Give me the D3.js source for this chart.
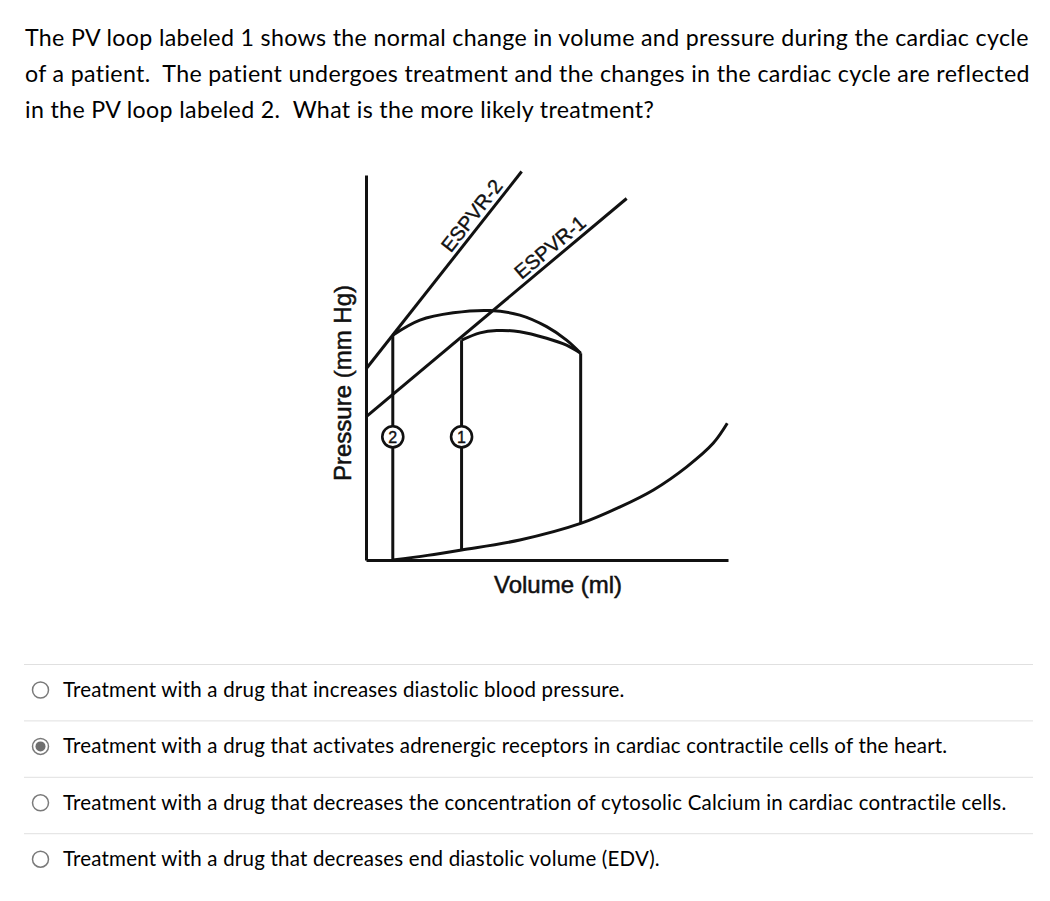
<!DOCTYPE html>
<html>
<head>
<meta charset="utf-8">
<script src="https://cdn.jsdelivr.net/npm/d3@7"></script>
<style>
  body { margin: 0; background: #fff; }
  svg { display: block; }
  text { white-space: pre; }
</style>
</head>
<body>
<svg id="page" width="1050" height="901"></svg>
<script>
// question text, one entry per rendered line
const questionLines = [
  "The PV loop labeled 1 shows the normal change in volume and pressure during the cardiac cycle",
  "of a patient.  The patient undergoes treatment and the changes in the cardiac cycle are reflected",
  "in the PV loop labeled 2.  What is the more likely treatment?"
];

const answerOptions = [
  "Treatment with a drug that increases diastolic blood pressure.",
  "Treatment with a drug that activates adrenergic receptors in cardiac contractile cells of the heart.",
  "Treatment with a drug that decreases the concentration of cytosolic Calcium in cardiac contractile cells.",
  "Treatment with a drug that decreases end diastolic volume (EDV)."
];
const selectedOption = 1;

// [volume, pressure] in arbitrary units (0-100 on each axis)
const espvr1 = [[0, 37.2], [72.0, 93.9]];
const espvr2 = [[0, 49.6], [43.0, 100.9]];
const espvrNames = ["ESPVR-1", "ESPVR-2"];

// end diastolic pressure-volume curve
const edpvr = [
  [7.4, 0], [17, 1.2], [26.4, 2.6], [42.5, 5.2], [59.3, 9.5], [70.2, 13.8],
  [79.4, 18.2], [88.6, 24.2], [95.9, 30.3], [99.8, 35.5]
];

// ejection phase (top of each loop)
const loop1Top = [
  [26.4, 57.1], [31.5, 59.0], [36.1, 59.6], [42.5, 59.3], [49.9, 57.6],
  [55.4, 55.8], [59.3, 53.7]
];
const loop2Top = [
  [7.4, 58.4], [14.9, 62.3], [24.1, 64.2], [34.3, 64.8], [42.5, 63.6],
  [49.9, 60.6], [55.4, 57.1], [59.3, 53.7]
];

// isovolumetric segments: [volume, pressure low, pressure high]
const loop1Relax = [26.4, 2.6, 57.1];
const loop2Relax = [7.4, 0, 58.4];
const edvContract = [59.3, 9.5, 53.7];

const loopLabels = ["1", "2"];

const svg = d3.select("#page");
const ink = "#111";
const sans = "Liberation Sans, Arial, sans-serif";

// question
svg.append("g")
  .selectAll("text")
  .data(questionLines)
  .join("text")
  .attr("x", 25)
  .attr("y", (d, i) => 46 + i * 36)
  .style("font-family", "Lato")
  .style("font-size", "23.2px")
  .style("letter-spacing", "0.34px")
  .attr("fill", "#000")
  .text(d => d);

// chart
const x = d3.scaleLinear().domain([0, 100]).range([366, 728]);
const y = d3.scaleLinear().domain([0, 100]).range([560, 175]);

const chart = svg.append("g")
  .attr("fill", "none")
  .attr("stroke", ink)
  .attr("stroke-width", 3);

chart.append("g")
  .attr("transform", `translate(0,${y(0)})`)
  .call(d3.axisBottom(x).tickValues([]).tickSizeOuter(0));
chart.append("g")
  .attr("transform", `translate(${x(0)},0)`)
  .call(d3.axisLeft(y).tickValues([]).tickSizeOuter(0));
chart.selectAll(".domain").attr("stroke", ink).attr("stroke-width", 3);

const line = d3.line().x(d => x(d[0])).y(d => y(d[1]));
const curve = d3.line().x(d => x(d[0])).y(d => y(d[1])).curve(d3.curveCatmullRom);

chart.append("path").attr("d", line(espvr1));
chart.append("path").attr("d", line(espvr2));
chart.append("path").attr("d", curve(edpvr));
chart.append("path").attr("d", curve(loop1Top));
chart.append("path").attr("d", curve(loop2Top));

[loop1Relax, loop2Relax, edvContract].forEach(s => {
  chart.append("line")
    .attr("x1", x(s[0])).attr("x2", x(s[0]))
    .attr("y1", y(s[1])).attr("y2", y(s[2]));
});

// ESPVR labels along their lines
[espvr1, espvr2].forEach((l, i) => {
  const p0 = [x(l[0][0]), y(l[0][1])], p1 = [x(l[1][0]), y(l[1][1])];
  const ang = Math.atan2(p1[1] - p0[1], p1[0] - p0[0]) * 180 / Math.PI;
  const t = i === 0 ? 0.735 : 0.74;
  const px = p0[0] + (p1[0] - p0[0]) * t, py = p0[1] + (p1[1] - p0[1]) * t;
  svg.append("text")
    .attr("transform", `translate(${px},${py}) rotate(${ang})`)
    .attr("dy", -5)
    .attr("text-anchor", "middle")
    .style("font-family", sans)
    .style("font-size", "20px")
    .attr("fill", ink)
    .attr("stroke", ink)
    .attr("stroke-width", 0.4)
    .text(espvrNames[i]);
});

// loop markers
const markers = svg.append("g")
  .selectAll("g")
  .data([loop1Relax[0], loop2Relax[0]])
  .join("g")
  .attr("transform", d => `translate(${x(d)},${y(32)})`);
markers.append("circle")
  .attr("r", 10.5)
  .attr("fill", "#fff")
  .attr("stroke", ink)
  .attr("stroke-width", 2.6);
markers.append("text")
  .attr("text-anchor", "middle")
  .attr("dy", "0.36em")
  .style("font-family", sans)
  .style("font-size", "16px")
  .attr("fill", ink)
  .attr("stroke", ink)
  .attr("stroke-width", 0.4)
  .text((d, i) => loopLabels[i]);

// axis titles
svg.append("text")
  .attr("transform", `translate(351,383) rotate(-90)`)
  .attr("text-anchor", "middle")
  .style("font-family", sans)
  .style("font-size", "24px")
  .attr("fill", ink)
  .attr("stroke", ink)
  .attr("stroke-width", 0.5)
  .text("Pressure (mm Hg)");
svg.append("text")
  .attr("x", 558)
  .attr("y", 593)
  .attr("text-anchor", "middle")
  .style("font-family", sans)
  .style("font-size", "24px")
  .attr("fill", ink)
  .attr("stroke", ink)
  .attr("stroke-width", 0.5)
  .text("Volume (ml)");

// answer options
const optTop = 690, optStep = 56.4;
const opts = svg.append("g")
  .selectAll("g")
  .data(answerOptions)
  .join("g")
  .attr("transform", (d, i) => `translate(0,${optTop + i * optStep})`);
opts.append("line")
  .attr("x1", 24).attr("x2", 1033)
  .attr("y1", -25.5).attr("y2", -25.5)
  .attr("stroke", "#e0e0e0")
  .attr("stroke-width", 1);
opts.append("circle")
  .attr("cx", 40.5)
  .attr("r", 8)
  .attr("fill", "#fff")
  .attr("stroke", "#7a7a7a")
  .attr("stroke-width", 1.5);
opts.filter((d, i) => i === selectedOption)
  .append("circle")
  .attr("cx", 40.5)
  .attr("r", 5)
  .attr("fill", "#6f6f6f");
opts.append("text")
  .attr("x", 63)
  .attr("y", 6.8)
  .style("font-family", "Lato")
  .style("font-size", "20.5px")
  .style("letter-spacing", "0.2px")
  .attr("fill", "#000")
  .text(d => d);
</script>
</body>
</html>
